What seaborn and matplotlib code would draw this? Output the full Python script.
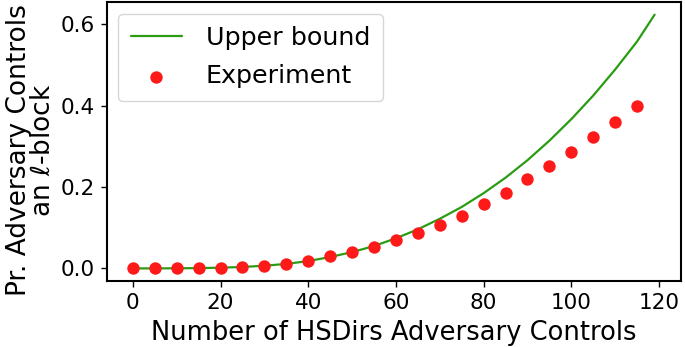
import matplotlib
matplotlib.use("Agg")
import matplotlib.pyplot as plt
import seaborn as sns
import pandas as pd

# Upper bound curve
bound_x = [0, 5, 10, 15, 20, 25, 30, 35, 40, 45, 50, 55, 60, 65, 70, 75, 80, 85,
           90, 95, 100, 105, 110, 115, 119]
bound_y = [0.0, 0.0, 0.0002, 0.0007, 0.0017, 0.0035, 0.0065, 0.011, 0.018, 0.028,
           0.040, 0.055, 0.074, 0.096, 0.122, 0.151, 0.185, 0.223, 0.266, 0.314,
           0.367, 0.425, 0.489, 0.558, 0.624]

# Experiment points
exp_x = [0, 5, 10, 15, 20, 25, 30, 35, 40, 45, 50, 55, 60, 65, 70, 75, 80, 85,
         90, 95, 100, 105, 110, 115]
exp_y = [0.0, 0.0, 0.0, 0.001, 0.001, 0.003, 0.006, 0.011, 0.019, 0.031, 0.041,
         0.053, 0.069, 0.087, 0.107, 0.130, 0.158, 0.186, 0.219, 0.251, 0.286,
         0.322, 0.360, 0.400]

sns.set_style("ticks")
plt.rcParams['font.family'] = ['DejaVu Sans']
plt.rcParams['text.color'] = 'black'
plt.rcParams['axes.labelcolor'] = 'black'
plt.rcParams['xtick.color'] = 'black'
plt.rcParams['ytick.color'] = 'black'

fig = plt.figure(figsize=(6.85, 3.47), dpi=100)
ax = fig.add_axes([0.1558, 0.190, 0.9937 - 0.1558, 0.994 - 0.190])

df_b = pd.DataFrame({"x": bound_x, "y": bound_y})
df_e = pd.DataFrame({"x": exp_x, "y": exp_y})

sns.lineplot(data=df_b, x="x", y="y", ax=ax, color="#2a9c14", linewidth=1.6,
             label="Upper bound")
sns.scatterplot(data=df_e, x="x", y="y", ax=ax, color="#ff1a1a", s=80,
                linewidth=0, label="Experiment", zorder=3)

ax.set_xlim(-5.95, 124.95)
ax.set_ylim(-0.0312, 0.655)
ax.set_xticks([0, 20, 40, 60, 80, 100, 120])
ax.set_yticks([0.0, 0.2, 0.4, 0.6])
ax.tick_params(labelsize=15.5, width=1.0, length=4.5, color="black", pad=4)
for s in ax.spines.values():
    s.set_visible(True)
    s.set_linewidth(1.5)
    s.set_color("black")

ax.set_xlabel("Number of HSDirs Adversary Controls", fontsize=18.5, labelpad=5)
ax.set_ylabel("Pr. Adversary Controls\nan $\\ell$-block", fontsize=19,
              linespacing=0.93)
ax.yaxis.set_label_coords(-0.088, 0.4695)

leg = ax.legend(loc="upper left", fontsize=18.3, frameon=True, handlelength=2.0,
                borderpad=0.5, labelspacing=0.55, handletextpad=0.95,
                bbox_to_anchor=(0.0, 1.0), borderaxespad=0.45)

fig.savefig("out.png", dpi=100)
